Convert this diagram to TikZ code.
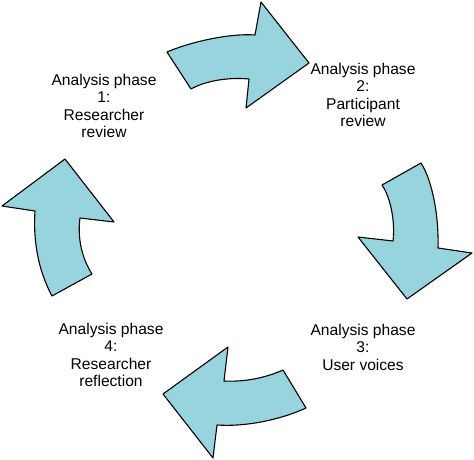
\documentclass[tikz,border=0pt]{standalone}
\usepackage{fontspec}
\setmainfont{Liberation Sans}
\definecolor{arrowblue}{RGB}{152,212,222}
\begin{document}
\begin{tikzpicture}[x=1pt, y=-1pt,
    phasearrow/.style={fill=arrowblue, draw=black, line width=1.1pt, line join=round},
    phasetext/.style={align=center, inner sep=0pt, font=\fontsize{15.6}{17.5}\selectfont}]
    \useasboundingbox (0,0) rectangle (474,460);

    % top arrow
    \draw[phasearrow] (167,52) .. controls (190,42) and (230,33) .. (255,35) -- (261,2) -- (309,63) -- (246,108) -- (249,79) .. controls (228,77) and (205,81) .. (191,89) -- cycle;

    % right arrow
    \draw[phasearrow] (382,185) -- (421,163) .. controls (432,180) and (439,215) .. (438,248) -- (472,253) -- (407,299) -- (358,237) -- (393,241) .. controls (395,225) and (392,200) .. (382,185) -- cycle;

    % bottom arrow
    \draw[phasearrow] (283,370) -- (306,408) .. controls (280,420) and (245,427) .. (217,425) -- (213,458) -- (163,394) -- (228,347) -- (224,381) .. controls (245,382) and (265,378) .. (283,370) -- cycle;

    % left arrow
    \draw[phasearrow] (65,159) -- (114,222) -- (80,218) .. controls (77,240) and (83,260) .. (92,274) -- (52,296) .. controls (38,270) and (33,240) .. (35,211) -- (2,206) -- cycle;

    \node[phasetext] (phaseone) at (104,106) {Analysis phase\\1:\\Researcher\\review};
    \node[phasetext] (phasetwo) at (363,95) {Analysis phase\\2:\\Participant\\review};
    \node[phasetext] (phasethree) at (363,347) {Analysis phase\\3:\\User voices};
    \node[phasetext] (phasefour) at (111,355) {Analysis phase\\4:\\Researcher\\reflection};
\end{tikzpicture}
\end{document}
